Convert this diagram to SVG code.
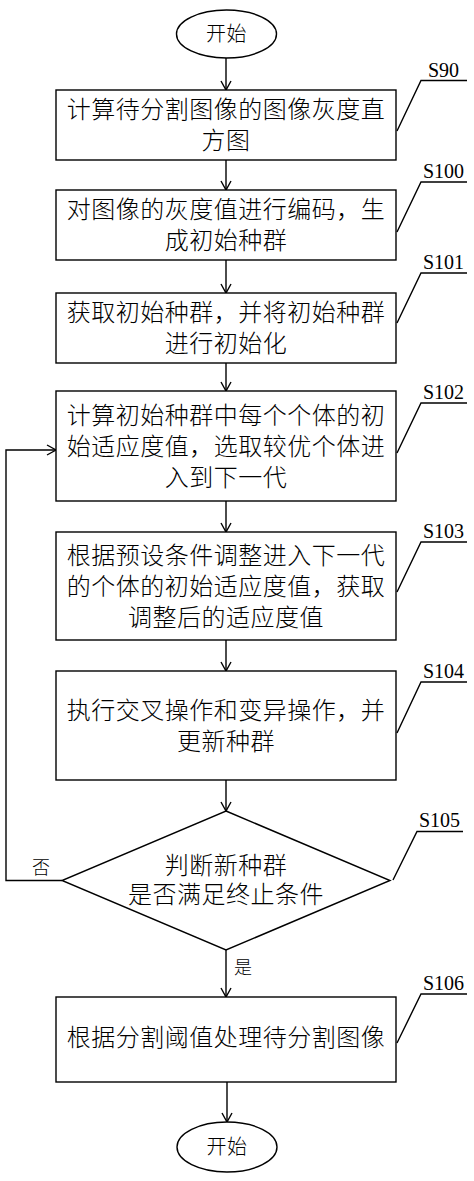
<svg xmlns="http://www.w3.org/2000/svg" width="474" height="1181" viewBox="0 0 474 1181">
<style>
.box{fill:#fff;stroke:#000;stroke-width:1.4}
.t{font-family:"Liberation Serif","Noto Sans CJK SC",serif;font-size:24px;font-weight:300;text-anchor:middle;fill:#000;letter-spacing:0.5px}
.s{font-family:"Liberation Serif",serif;font-size:20px;fill:#000}
.lead{fill:none;stroke:#000;stroke-width:1.4}
.c{fill:none;stroke:#000;stroke-width:1.4;marker-end:url(#ah)}
.y{font-family:"Liberation Serif","Noto Sans CJK SC",serif;font-size:18px;font-weight:300;text-anchor:middle;fill:#000}
</style>
<defs>
<marker id="ah" markerWidth="12" markerHeight="12" refX="10" refY="6" orient="auto" markerUnits="userSpaceOnUse">
<path d="M1,1 L10,6 L1,11" fill="none" stroke="#000" stroke-width="1.4"/>
</marker>
</defs>
<rect width="474" height="1181" fill="#fff"/>
<g id="connectors">
<line class="c" x1="226" y1="58" x2="226" y2="90"/>
<line class="c" x1="226" y1="160" x2="226" y2="190"/>
<line class="c" x1="226" y1="260" x2="226" y2="293"/>
<line class="c" x1="226" y1="363" x2="226" y2="391"/>
<line class="c" x1="226" y1="501" x2="226" y2="532"/>
<line class="c" x1="226" y1="640" x2="226" y2="671"/>
<line class="c" x1="226" y1="780" x2="226" y2="811"/>
<line class="c" x1="226" y1="950" x2="226" y2="997"/>
<line class="c" x1="227" y1="1082" x2="227" y2="1122"/>
<polyline class="c" points="62,880.5 6,880.5 6,450 56,450"/>
<text class="y" x="41" y="874">否</text>
<text class="y" x="243" y="974">是</text>
</g>
<g id="start">
<ellipse class="box" cx="226.5" cy="34" rx="50" ry="24"/>
<text class="t" style="font-size:20px" x="226.5" y="41">开始</text>
</g>
<g id="S90">
<rect class="box" x="56" y="90" width="340" height="70"/>
<text class="t" x="226" y="118">计算待分割图像的图像灰度直</text>
<text class="t" x="226" y="149">方图</text>
<polyline class="lead" points="467,80.5 421,80.5 397,131"/>
<text class="s" x="428" y="77">S90</text>
</g>
<g id="S100">
<rect class="box" x="56" y="190" width="340" height="70"/>
<text class="t" x="226" y="218">对图像的灰度值进行编码，生</text>
<text class="t" x="226" y="249">成初始种群</text>
<polyline class="lead" points="467,182 421,182 397,232"/>
<text class="s" x="423" y="178">S100</text>
</g>
<g id="S101">
<rect class="box" x="56" y="293" width="340" height="70"/>
<text class="t" x="226" y="321">获取初始种群，并将初始种群</text>
<text class="t" x="226" y="352">进行初始化</text>
<polyline class="lead" points="467,273 421,273 397,323"/>
<text class="s" x="423" y="269">S101</text>
</g>
<g id="S102">
<rect class="box" x="56" y="391" width="340" height="110"/>
<text class="t" x="226" y="424">计算初始种群中每个个体的初</text>
<text class="t" x="226" y="455">始适应度值，选取较优个体进</text>
<text class="t" x="226" y="486">入到下一代</text>
<polyline class="lead" points="467,403 421,403 397,453"/>
<text class="s" x="423" y="399">S102</text>
</g>
<g id="S103">
<rect class="box" x="56" y="532" width="340" height="108"/>
<text class="t" x="226" y="564">根据预设条件调整进入下一代</text>
<text class="t" x="226" y="595">的个体的初始适应度值，获取</text>
<text class="t" x="226" y="626">调整后的适应度值</text>
<polyline class="lead" points="467,542 421,542 397,592"/>
<text class="s" x="423" y="538">S103</text>
</g>
<g id="S104">
<rect class="box" x="56" y="671" width="340" height="109"/>
<text class="t" x="226" y="719">执行交叉操作和变异操作，并</text>
<text class="t" x="226" y="750">更新种群</text>
<polyline class="lead" points="467,682 421,682 397,733"/>
<text class="s" x="423" y="678">S104</text>
</g>
<g id="S105">
<polygon class="box" points="226,811 390,880.5 226,950 62,880.5"/>
<text class="t" x="226" y="874">判断新种群</text>
<text class="t" x="226" y="903">是否满足终止条件</text>
<polyline class="lead" points="463,831.5 417,831.5 393,880"/>
<text class="s" x="419" y="827">S105</text>
</g>
<g id="S106">
<rect class="box" x="56" y="997" width="340" height="85"/>
<text class="t" x="226" y="1046">根据分割阈值处理待分割图像</text>
<polyline class="lead" points="467,994 421,994 397,1043"/>
<text class="s" x="423" y="990">S106</text>
</g>
<g id="end">
<ellipse class="box" cx="227" cy="1147" rx="50" ry="25"/>
<text class="t" style="font-size:20px" x="227" y="1154">开始</text>
</g>
</svg>
